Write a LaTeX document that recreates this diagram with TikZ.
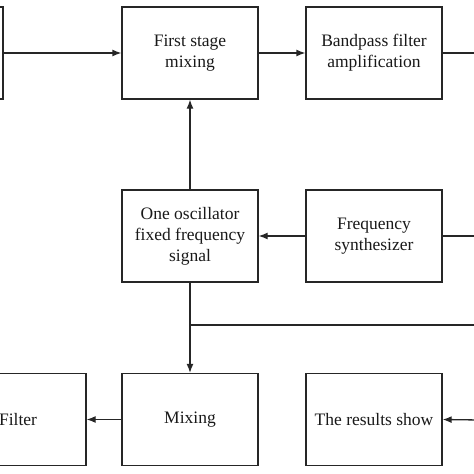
\documentclass[tikz,border=0pt]{standalone}
\usepackage{fontspec}
\setmainfont{Liberation Serif}
\usetikzlibrary{arrows.meta}

\begin{document}
\begin{tikzpicture}[x=1pt, y=-1pt, line width=1.3pt, draw=black!85, >={Latex[length=9pt,width=7pt]},
		every node/.style={rectangle, draw=black!85, line width=1.3pt, minimum width=136pt, minimum height=92pt, align=center, text=black!90, font=\fontsize{17.5}{21}\selectfont}]
			\useasboundingbox (0,0) rectangle (474,474);
			\clip (0,0) rectangle (474,474);
			
			% Define blocks
			\node (S) at (-65,53) {};
			\node (A) at (190,53) {First stage\\mixing};
			\node (B) at (374,53) {Bandpass filter\\amplification};
			\node (O) at (190,236) {One oscillator\\fixed frequency\\signal};
			\node (F) at (374,236) {Frequency\\synthesizer};
			\node (L) at (18,419.5) {Filter};
			\node (M) at (190,419.5) {Mixing};
			\node (R) at (374,419.5) {The results show};
			
			% Free ends at the right border
			\coordinate (E1) at (480,53);
			\coordinate (E2) at (480,236);
			\coordinate (E3) at (480,325);
			\coordinate (E4) at (480,420);
			\coordinate (J) at (190,325);
			
			% Top row
			\draw[->] (S.east) -- (A.west);
			\draw[->] (A.east) -- (B.west);
			\draw (B.east) -- (E1);
			
			% Middle row
			\draw[->] (O.north) -- (A.south);
			\draw[->] (F.west) -- (O.east);
			\draw (F.east) -- (E2);
			
			% Down to mixing
			\draw[->] (O.south) -- (M.north);
			\draw (J) -- (E3);
			
			% Bottom row
			\draw[->] (M.west) -- (L.east);
			\draw[->] (E4) -- (R.east);
			
		\end{tikzpicture}
\end{document}
